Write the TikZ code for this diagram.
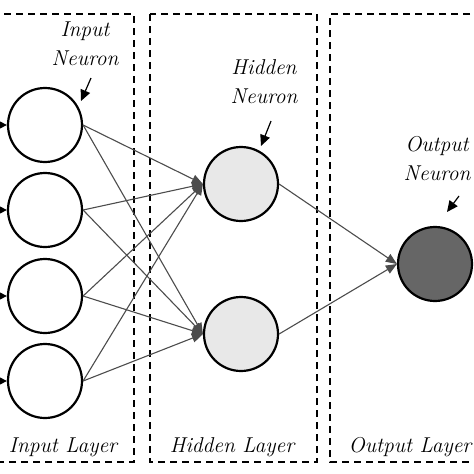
\documentclass[tikz,border=0pt]{standalone}
\usetikzlibrary{arrows.meta}
\begin{document}
\begin{tikzpicture}[x=1pt,y=-1pt,
  neuron/.style={circle,draw=black,line width=2.2pt,minimum size=74pt,inner sep=0pt},
  inneuron/.style={neuron,fill=white},
  hidneuron/.style={neuron,fill=black!9},
  outneuron/.style={neuron,fill=black!60},
  conn/.style={draw=black!70,line width=1.1pt,-{Triangle[length=11pt,width=9pt]}},
  feed/.style={draw=black,line width=1.1pt,-{Triangle[length=9pt,width=9pt]}},
  pointer/.style={draw=black,line width=1.2pt,-{Triangle[length=11pt,width=10pt]}},
  layerbox/.style={draw=black,line width=1.8pt,dash pattern=on 7pt off 5pt},
  lbl/.style={font=\fontsize{21.5}{29}\selectfont\itshape,align=center,inner sep=0pt}
]
\useasboundingbox (0,0) rectangle (474,474);
% layer boxes
\draw[layerbox] (-20,14) -- (134,14) -- (134,462) -- (-20,462);
\draw[layerbox] (150,14) rectangle (317,462);
\draw[layerbox] (494,14) -- (330,14) -- (330,462) -- (494,462);
% neurons
\node[inneuron] (i1) at (45,125) {};
\node[inneuron] (i2) at (45,210) {};
\node[inneuron] (i3) at (45,296) {};
\node[inneuron] (i4) at (45,381) {};
\node[hidneuron] (h1) at (241,184) {};
\node[hidneuron] (h2) at (241,334) {};
\node[outneuron] (o) at (435,264) {};
% feed arrows
\coordinate (f1) at (-15,125);
\coordinate (f2) at (-15,210);
\coordinate (f3) at (-15,296);
\coordinate (f4) at (-15,381);
\foreach \k in {1,2,3,4} {\draw[feed] (f\k) -- (i\k.west);}
% connections
\foreach \k in {1,2,3,4} {
  \draw[conn] (i\k.east) -- (h1.west);
  \draw[conn] (i\k.east) -- (h2.west);
}
\draw[conn] (h1.east) -- (o.west);
\draw[conn] (h2.east) -- (o.west);
% labels
\node[lbl] (tin) at (85,44) {Input\\Neuron};
\node[lbl] (thid) at (264,82) {Hidden\\Neuron};
\node[lbl] (tout) at (437,159) {Output\\Neuron};
\coordinate (a1s) at (91,78);
\coordinate (a2s) at (271,121);
\coordinate (a3s) at (459,196);
\draw[pointer] (a1s) -- (81,101);
\draw[pointer] (a2s) -- (261,146);
\draw[pointer] (a3s) -- (447,212);
\node[lbl] (lin) at (63,447) {Input Layer};
\node[lbl] (lhid) at (232,447) {Hidden Layer};
\node[lbl] (lout) at (410,447) {Output Layer};
\end{tikzpicture}
\end{document}
